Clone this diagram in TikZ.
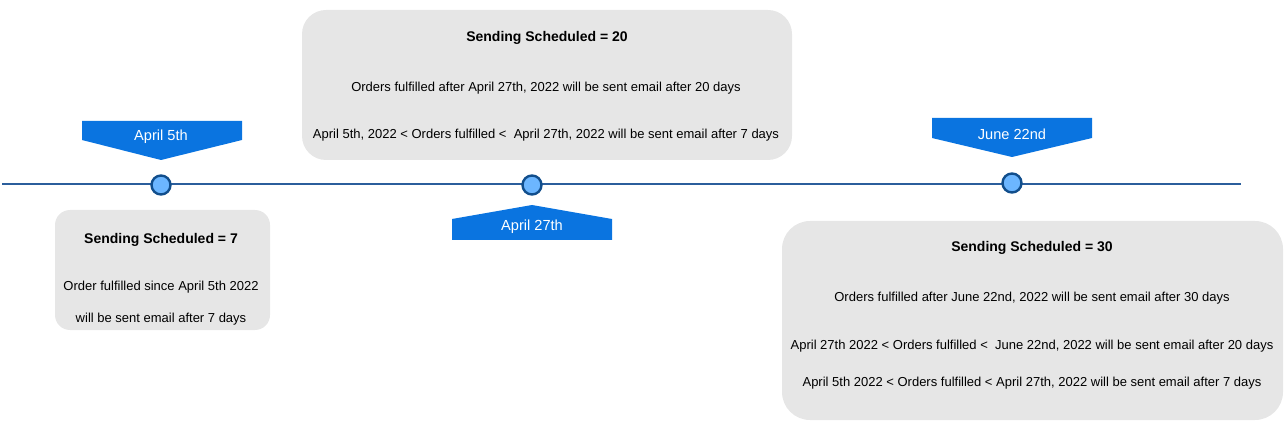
\documentclass[tikz,border=0pt]{standalone}
\usepackage{fontspec}
\setmainfont{Liberation Sans}
\definecolor{calloutblue}{HTML}{0A74E0}
\definecolor{linecol}{HTML}{2B5E9C}
\definecolor{dotfill}{HTML}{6CB6FF}
\definecolor{dotdraw}{HTML}{114E8C}
\definecolor{boxgray}{HTML}{E6E6E6}
\begin{document}
\begin{tikzpicture}[x=1pt,y=-1pt,
  dot/.style={circle,fill=dotfill,draw=dotdraw,line width=2.4pt,minimum size=19pt,inner sep=0pt},
  callout/.style={fill=calloutblue,draw=none},
  clabel/.style={text=white,font=\fontsize{14.6}{16}\selectfont,inner sep=0pt,yshift=-2pt},
  infobox/.style={fill=boxgray,draw=none},
  btitle/.style={font=\bfseries\fontsize{14}{16}\selectfont,inner sep=0pt,yshift=-2pt},
  btext/.style={font=\fontsize{13}{15}\selectfont,inner sep=0pt,yshift=-2pt}]
\useasboundingbox (0,0) rectangle (1285,422);
% gray boxes
\fill[infobox,rounded corners=15pt] (55,210) rectangle (270,330);
\fill[infobox,rounded corners=24pt] (302,10) rectangle (792,160);
\fill[infobox,rounded corners=28pt] (782,221) rectangle (1283,420);
% timeline
\coordinate (tl) at (2,184);
\coordinate (tr) at (1241,184);
\draw[linecol,line width=2pt] (tl) -- (tr);
% callouts
\fill[callout] (82,121) -- (242,121) -- (242,140) -- (161,160) -- (82,140) -- cycle;
\fill[callout] (452,219) -- (532,205) -- (612,219) -- (612,240) -- (452,240) -- cycle;
\fill[callout] (932,118) -- (1092,118) -- (1092,138) -- (1012,157) -- (932,138) -- cycle;
\node[clabel] (l1) at (161,135) {April 5th};
\node[clabel] (l2) at (532,225) {April 27th};
\node[clabel] (l3) at (1012,132) {June 22nd};
% dots
\node[dot] (d1) at (161,185) {};
\node[dot] (d2) at (532,185) {};
\node[dot] (d3) at (1012,183) {};
% box 1
\node[btitle] (b1t) at (161,238) {Sending Scheduled = 7};
\node[btext] (b1a) at (161,285) {Order fulfilled since April 5th 2022};
\node[btext] (b1b) at (161,317) {will be sent email after 7 days};
% box 2
\node[btitle] (b2t) at (547,36) {Sending Scheduled = 20};
\node[btext] (b2a) at (546,86) {Orders fulfilled after April 27th, 2022 will be sent email after 20 days};
\node[btext] (b2b) at (546,133) {April 5th, 2022 {<} Orders fulfilled {<}\ \ April 27th, 2022 will be sent email after 7 days};
% box 3
\node[btitle] (b3t) at (1032,246) {Sending Scheduled = 30};
\node[btext] (b3a) at (1032,296) {Orders fulfilled after June 22nd, 2022 will be sent email after 30 days};
\node[btext] (b3b) at (1032,344) {April 27th 2022 {<} Orders fulfilled {<}\ \ June 22nd, 2022 will be sent email after 20 days};
\node[btext] (b3c) at (1032,381) {April 5th 2022 {<} Orders fulfilled {<} April 27th, 2022 will be sent email after 7 days};
\end{tikzpicture}
\end{document}
